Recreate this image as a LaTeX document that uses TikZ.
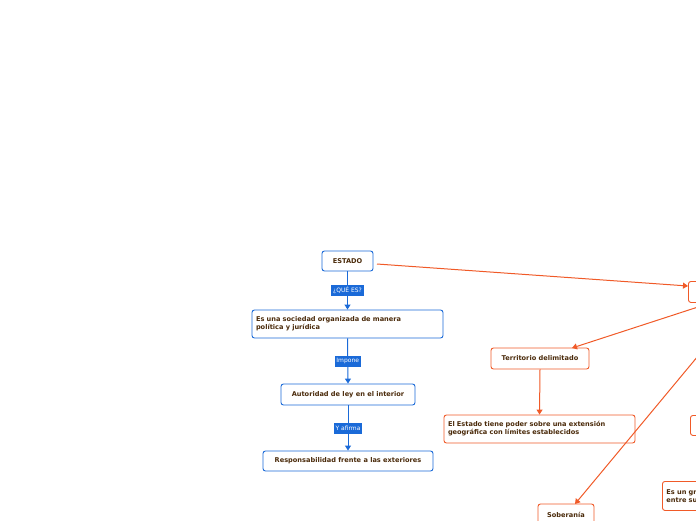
\documentclass[tikz,border=0pt]{standalone}
\usepackage{fontspec}
\setmainfont{DejaVu Sans}
\usetikzlibrary{arrows.meta}
\definecolor{bl}{HTML}{1A6AD8}
\definecolor{or}{HTML}{F05A28}
\definecolor{tx}{HTML}{4A2A0A}
\begin{document}
\begin{tikzpicture}[x=1pt,y=-1pt,
 bbox/.style={draw=bl,line width=0.9pt,rounded corners=2.5pt,fill=white,text=tx,font=\bfseries\fontsize{6.6}{8}\selectfont,align=left,inner sep=0pt,anchor=north west},
 obox/.style={bbox,draw=or},
 lab/.style={fill=bl,text=white,font=\fontsize{6}{7}\selectfont,inner sep=1.8pt,minimum height=11pt},
 barr/.style={draw=bl,line width=1pt,-{Triangle[length=5pt,width=6pt]}},
 oarr/.style={draw=or,line width=1pt,-{Triangle[length=5pt,width=6pt]}}]
\useasboundingbox (0,0) rectangle (696,520);
\clip (0,0) rectangle (696,520);
\node[bbox,minimum width=51pt,minimum height=20pt,align=center,anchor=center] (estado) at (347.5,261) {ESTADO};
\node[bbox,minimum width=191pt,minimum height=28pt,text width=183pt,inner xsep=4pt,anchor=center] (soc) at (347.5,324) {Es una sociedad organizada de manera\\política y jurídica};
\node[bbox,minimum width=134pt,minimum height=21pt,align=center,anchor=center] (aut) at (348,394.5) {Autoridad de ley en el interior};
\node[bbox,minimum width=170pt,minimum height=20pt,align=center,anchor=center] (resp) at (348,461) {Responsabilidad frente a las exteriores};
\draw[barr] (estado.south) -- (soc.north) node[lab,pos=0.5]{¿QUÉ ES?};
\draw[barr] (soc.south) -- (aut.north) node[lab,pos=0.5]{Impone};
\draw[barr] (aut.south) -- (resp.north) node[lab,pos=0.5]{Y afirma};
\node[obox,minimum width=40pt,minimum height=21pt] (right) at (688,281) {};
\node[obox,minimum width=98pt,minimum height=21pt,align=center,anchor=center] (terr) at (540,358.5) {Territorio delimitado};
\node[obox,minimum width=191pt,minimum height=28pt,text width=183pt,inner xsep=4pt,anchor=center] (ext) at (539.5,429) {El Estado tiene poder sobre una extensión\\geográfica con límites establecidos};
\node[obox,minimum width=56pt,minimum height=21pt,align=center,anchor=center] (sob) at (566,514.5) {Soberanía};
\node[obox,minimum width=40pt,minimum height=20pt] (r2) at (690,415) {};
\node[obox,minimum width=80pt,minimum height=29pt,text width=72pt,inner xsep=4pt,anchor=north west] (r3) at (662,481) {Es un grupo\\entre sus};
\coordinate (c1) at (377,264);
\coordinate (c2) at (698,307);
\coordinate (c3) at (698,356);
\draw[oarr] (c1) -- (right.west |- 0,286);
\draw[oarr] (c2) -- (572,348);
\draw[oarr] (c3) -- (575,504);
\draw[oarr] (terr.south) -- (ext.north);
\end{tikzpicture}
\end{document}
